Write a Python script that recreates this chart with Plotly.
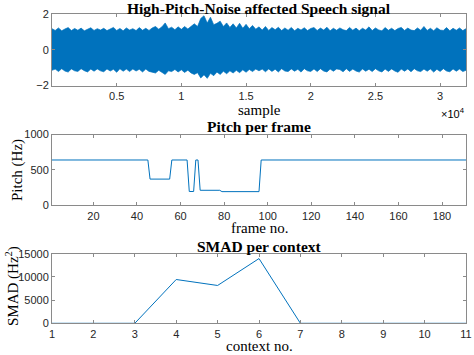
import plotly.graph_objects as go

# ---------------- data ----------------
# Envelope of the noisy speech signal, read every 250 samples (0 .. 32000)
env_step = 250
upper_env = [
    1.18, 1.08, 1.22, 1.06, 1.16, 1.24, 1.07, 1.19, 1.09, 1.21, 1.06, 1.17, 1.23, 1.08, 1.18, 1.10,
    1.20, 1.07, 1.16, 1.25, 1.08, 1.19, 1.06, 1.22, 1.10, 1.18, 1.07, 1.24, 1.09, 1.20, 1.08, 1.22,
    1.30, 1.15, 1.28, 1.50, 1.18, 1.26, 1.12, 1.28, 1.14, 1.30, 1.16, 1.32, 1.45, 1.30, 1.75, 1.90,
    1.50, 1.82, 1.40, 1.48, 1.60, 1.30, 1.50, 1.25, 1.45, 1.22, 1.48, 1.20, 1.42, 1.18, 1.36, 1.15,
    1.28, 1.10, 1.30, 1.08, 1.24, 1.12, 1.26, 1.07, 1.22, 1.09, 1.25, 1.06, 1.20, 1.10, 1.23, 1.07,
    1.19, 1.24, 1.08, 1.21, 1.10, 1.26, 1.06, 1.20, 1.09, 1.22, 1.12, 1.07, 1.25, 1.09, 1.21, 1.06,
    1.20, 1.10, 1.28, 1.07, 1.22, 1.11, 1.06, 1.24, 1.09, 1.20, 1.07, 1.19, 1.25, 1.08, 1.21, 1.10,
    1.07, 1.22, 1.09, 1.30, 1.08, 1.20, 1.06, 1.23, 1.10, 1.08, 1.24, 1.06, 1.20, 1.09, 1.22, 1.07,
    1.18,
]
lower_env = [
    -1.15, -1.08, -1.22, -1.06, -1.19, -1.25, -1.07, -1.18, -1.21, -1.06, -1.17, -1.24, -1.08, -1.20, -1.07, -1.18,
    -1.23, -1.07, -1.19, -1.09, -1.26, -1.06, -1.20, -1.08, -1.22, -1.07, -1.19, -1.09, -1.24, -1.08, -1.21, -1.25,
    -1.30, -1.15, -1.26, -1.38, -1.18, -1.22, -1.10, -1.24, -1.12, -1.27, -1.14, -1.30, -1.38, -1.28, -1.58, -1.40,
    -1.60, -1.32, -1.45, -1.25, -1.38, -1.20, -1.34, -1.18, -1.30, -1.15, -1.28, -1.12, -1.26, -1.10, -1.22, -1.08,
    -1.18, -1.08, -1.23, -1.07, -1.21, -1.09, -1.24, -1.06, -1.19, -1.22, -1.07, -1.20, -1.09, -1.25, -1.06, -1.18,
    -1.21, -1.07, -1.22, -1.06, -1.19, -1.24, -1.08, -1.20, -1.07, -1.11, -1.23, -1.06, -1.21, -1.08, -1.19, -1.25,
    -1.07, -1.20, -1.09, -1.22, -1.06, -1.18, -1.24, -1.08, -1.21, -1.07, -1.19, -1.26, -1.08, -1.20, -1.07, -1.23,
    -1.06, -1.18, -1.22, -1.08, -1.20, -1.07, -1.25, -1.09, -1.21, -1.06, -1.19, -1.23, -1.07, -1.20, -1.08, -1.22,
    -1.15,
]
samples = [i * env_step for i in range(len(upper_env))]

# Pitch per frame (run-length: level in Hz, number of frames)
pitch_levels = [640, 370, 640, 195, 640, 212, 193, 640]
pitch_runs = [45, 10, 8, 3, 2, 10, 18, 95]
pitch = []
for lvl, n in zip(pitch_levels, pitch_runs):
    pitch += [lvl] * n
frames = list(range(1, len(pitch) + 1))

# SMAD per context
contexts = [1, 2, 3, 4, 5, 6, 7, 8, 9, 10, 11]
smad = [0, 0, 0, 9440, 8150, 13950, 0, 0, 0, 0, 0]

sig_ticks = [5000, 10000, 15000, 20000, 25000, 30000]
sig_ticklabels = ["0.5", "1", "1.5", "2", "2.5", "3"]

# ---------------- figure ----------------
W, H = 474, 355
BLUE = "#0072BD"
AX = "#8a8a8a"
TICKFONT = dict(family="Liberation Sans, Arial, sans-serif", size=11, color="#262626")
SERIF = "Liberation Serif, Times New Roman, serif"

fig = go.Figure()
fig.add_trace(go.Scatter(x=samples, y=lower_env, mode="lines",
                         line=dict(color=BLUE, width=0.7), xaxis="x", yaxis="y",
                         showlegend=False, hoverinfo="skip"))
fig.add_trace(go.Scatter(x=samples, y=upper_env, mode="lines", fill="tonexty",
                         fillcolor=BLUE, line=dict(color=BLUE, width=0.7),
                         xaxis="x", yaxis="y", showlegend=False, hoverinfo="skip"))
fig.add_trace(go.Scatter(x=frames, y=pitch, mode="lines",
                         line=dict(color=BLUE, width=1), xaxis="x2", yaxis="y2",
                         showlegend=False))
fig.add_trace(go.Scatter(x=contexts, y=smad, mode="lines",
                         line=dict(color=BLUE, width=1), xaxis="x3", yaxis="y3",
                         showlegend=False))

xdom = [52 / W, 466 / W]


def ydom(top_px, bot_px):
    return [1 - bot_px / H, 1 - top_px / H]


common = dict(showline=True, linecolor=AX, linewidth=1, mirror="ticks",
              ticks="inside", ticklen=3, tickcolor=AX, tickfont=TICKFONT,
              showgrid=False, zeroline=False, automargin=False, tickformat="d")

fig.update_layout(
    template="none",
    width=W, height=H,
    margin=dict(l=0, r=0, t=0, b=0),
    paper_bgcolor="white", plot_bgcolor="white",
    showlegend=False,
    xaxis=dict(domain=xdom, anchor="y", range=[1, 32000], tickvals=sig_ticks,
               ticktext=sig_ticklabels, **common),
    yaxis=dict(domain=ydom(14, 85.5), anchor="x", range=[-2, 2],
               tickvals=[-2, 0, 2], **common),
    xaxis2=dict(domain=xdom, anchor="y2", range=[1, 191],
                tickvals=list(range(20, 181, 20)), **common),
    yaxis2=dict(domain=ydom(134.5, 205.3), anchor="x2", range=[0, 1000],
                tickvals=[0, 500, 1000], **common),
    xaxis3=dict(domain=xdom, anchor="y3", range=[1, 11],
                tickvals=contexts, **common),
    yaxis3=dict(domain=ydom(253.7, 323.3), anchor="x3", range=[0, 15000],
                tickvals=[0, 5000, 10000, 15000], **common),
)

ann = []


def add_text(text, x, y, size=13, bold=False, angle=0, family=SERIF, xanchor="center"):
    ann.append(dict(text=("<b>%s</b>" % text) if bold else text,
                    x=x / W, y=1 - y / H, xref="paper", yref="paper",
                    xanchor=xanchor, yanchor="middle", showarrow=False,
                    textangle=angle, font=dict(family=family, size=size, color="black")))


add_text("High-Pitch-Noise affected Speech signal", 259, 8.5, size=15.5, bold=True)
add_text("Pitch per frame", 259, 127, size=15.5, bold=True)
add_text("SMAD per context", 259, 246.5, size=15.5, bold=True)
add_text("sample", 259, 110, size=15)
add_text("frame no.", 259, 228, size=15)
add_text("context no.", 259, 346, size=15)
add_text("Pitch (Hz)", 17, 170, size=15, angle=-90)
add_text("SMAD (Hz<sup>2</sup>)", 12, 286, size=15, angle=-90)
add_text("×10<sup>4</sup>", 453, 113, size=11, family="Liberation Sans, Arial, sans-serif")

fig.update_layout(annotations=ann)

fig.write_html(
    "out.html",
    config={"displayModeBar": False, "staticPlot": True},
    post_script="document.body.style.margin='0';document.body.style.overflow='hidden';",
)
